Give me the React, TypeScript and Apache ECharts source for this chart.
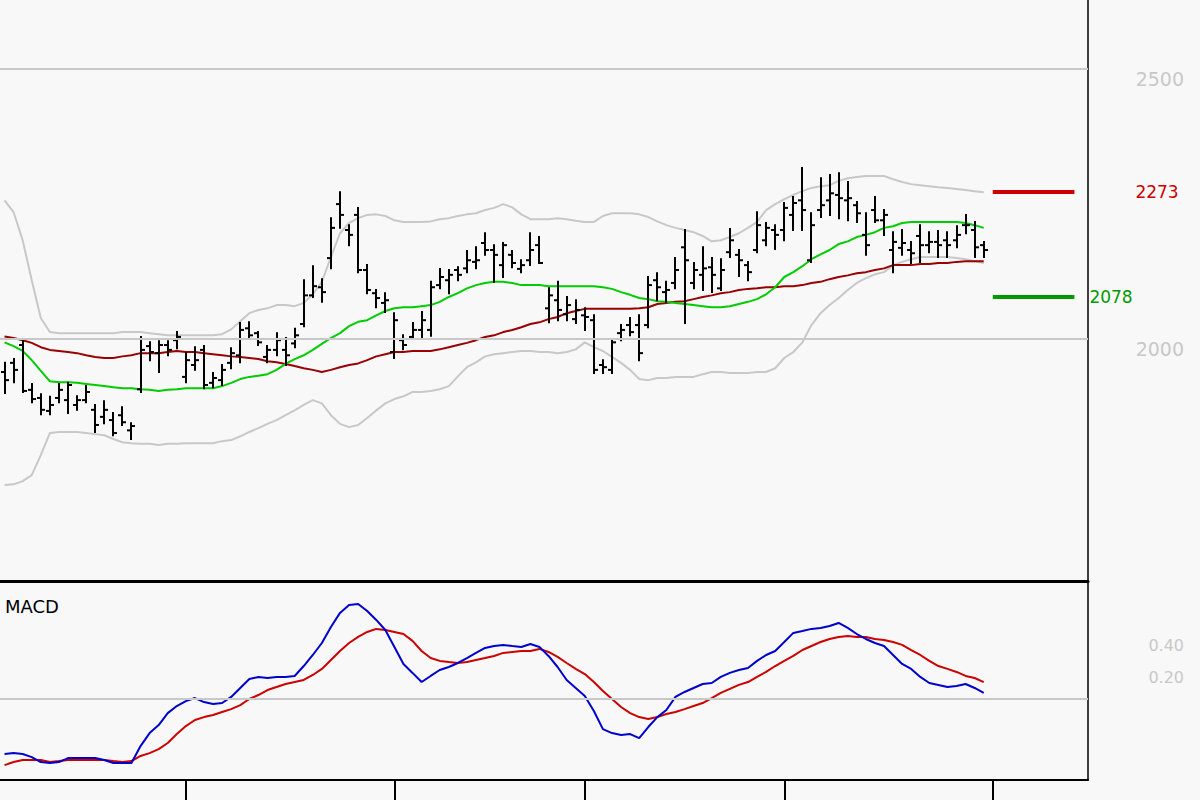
import { useEffect, useRef } from "react";
import * as echarts from "echarts";

const SLOT_COUNT = 120;
const slots = Array.from({ length: SLOT_COUNT }, (_, i) => String(i));
const monthStartIndex = [20, 43, 64, 86, 109];
const priceLabels = [2000, 2500];
const macdLabels = [0.2, 0.4];
const resistanceLevel = 2273;
const supportLevel = 2078;
const levelStart = 109;
const levelEnd = 118;

const open = [
  1939, 1956, 1989, 1906, 1891, 1867, 1891, 1887, 1878, 1887,
  1869, 1856, 1850, 1859, 1831, 1907, 1987, 1974, 1989, 1998,
  1930, 1952, 1980, 1919, 1924, 1956, 1970, 2020, 2011, 1967,
  1980, 1980, 1992, 2028, 2081, 2096, 2150, 2250, 2202, 2230,
  2128, 2085, 2067, 1976, 1998, 2004, 2017, 2017, 2100, 2109,
  2128, 2131, 2143, 2178, 2165, 2137, 2156, 2130, 2146, 2174,
  2057, 2072, 2046, 2037, 2044, 2035, 1952, 1943, 2011, 2026,
  2026, 2026, 2109, 2087, 2104, 2170, 2104, 2119, 2133, 2094,
  2161, 2156, 2137, 2165, 2183, 2202, 2202, 2230, 2257, 2146,
  2239, 2257, 2267, 2257, 2248, 2193, 2239, 2220, 2165, 2169,
  2165, 2191, 2174, 2180, 2183, 2183, 2211, 2202, 2174,
];
const high = [
  1956, 1963, 1996, 1917, 1898, 1893, 1917, 1919, 1894, 1913,
  1878, 1885, 1863, 1874, 1844, 2004, 1994, 1996, 1996, 2013,
  1974, 1985, 1987, 1937, 1952, 1983, 2030, 2031, 2013, 1987,
  2011, 2002, 2019, 2109, 2135, 2111, 2224, 2272, 2211, 2243,
  2137, 2091, 2085, 2048, 2007, 2030, 2050, 2106, 2130, 2128,
  2133, 2163, 2170, 2196, 2174, 2178, 2163, 2146, 2196, 2189,
  2094, 2106, 2078, 2072, 2057, 2044, 1961, 1998, 2026, 2039,
  2044, 2115, 2122, 2106, 2150, 2202, 2141, 2170, 2150, 2148,
  2204, 2165, 2143, 2235, 2215, 2211, 2252, 2263, 2317, 2233,
  2298, 2304, 2307, 2291, 2254, 2233, 2263, 2239, 2198, 2202,
  2180, 2211, 2198, 2200, 2198, 2209, 2230, 2217, 2180,
];
const low = [
  1900, 1920, 1902, 1883, 1861, 1861, 1883, 1863, 1869, 1883,
  1828, 1844, 1822, 1841, 1815, 1902, 1961, 1939, 1970, 1983,
  1920, 1943, 1909, 1911, 1915, 1946, 1957, 2000, 1989, 1957,
  1970, 1952, 1985, 2024, 2078, 2069, 2131, 2206, 2174, 2124,
  2085, 2059, 2050, 1965, 1981, 2000, 2004, 2006, 2094, 2085,
  2109, 2124, 2131, 2156, 2106, 2115, 2133, 2124, 2137, 2141,
  2031, 2035, 2035, 2030, 2017, 1937, 1937, 1937, 1998, 2007,
  1961, 2022, 2072, 2069, 2094, 2030, 2094, 2091, 2087, 2091,
  2152, 2117, 2109, 2161, 2174, 2167, 2183, 2202, 2202, 2143,
  2226, 2230, 2224, 2220, 2217, 2156, 2217, 2193, 2124, 2156,
  2141, 2143, 2161, 2152, 2152, 2170, 2196, 2152, 2152,
];
const close = [
  1924, 1943, 1904, 1889, 1869, 1878, 1906, 1915, 1887, 1902,
  1841, 1869, 1826, 1846, 1839, 1980, 1976, 1989, 1980, 2004,
  1961, 1961, 1915, 1928, 1943, 1974, 2017, 2007, 1994, 1980,
  1998, 1970, 2007, 2081, 2098, 2087, 2206, 2230, 2193, 2128,
  2091, 2076, 2072, 2035, 1989, 2017, 2035, 2096, 2115, 2119,
  2119, 2146, 2146, 2165, 2156, 2174, 2141, 2137, 2165, 2141,
  2081, 2054, 2063, 2054, 2041, 1943, 1948, 1994, 2017, 2013,
  1974, 2100, 2096, 2091, 2128, 2146, 2128, 2131, 2119, 2128,
  2183, 2146, 2124, 2211, 2206, 2193, 2243, 2252, 2239, 2211,
  2248, 2270, 2261, 2261, 2233, 2174, 2220, 2230, 2180, 2178,
  2159, 2174, 2180, 2174, 2174, 2193, 2211, 2170, 2165,
];
const ma20 = [
  1994, 1987, 1978, 1961, 1941, 1922, 1920, 1920, 1919, 1917,
  1915, 1913, 1911, 1909, 1909, 1907, 1906, 1904, 1906, 1907,
  1909, 1909, 1909, 1909, 1913, 1919, 1926, 1930, 1932, 1935,
  1943, 1954, 1963, 1970, 1980, 1991, 2002, 2011, 2024, 2032,
  2035, 2044, 2052, 2057, 2059, 2059, 2061, 2063, 2069, 2078,
  2085, 2094, 2100, 2104, 2106, 2106, 2104, 2100, 2100, 2100,
  2098, 2098, 2098, 2098, 2098, 2098, 2096, 2093, 2087, 2082,
  2076, 2074, 2070, 2069, 2067, 2065, 2063, 2061, 2059, 2059,
  2061, 2065, 2069, 2074, 2083, 2096, 2115, 2124, 2135, 2148,
  2157, 2165, 2176, 2181, 2189, 2193, 2198, 2206, 2209, 2215,
  2217, 2217, 2217, 2217, 2217, 2217, 2215, 2211, 2206,
];
const ma50 = [
  2005, 2002, 1998, 1993, 1985, 1980, 1978, 1976, 1974, 1970,
  1967, 1965, 1965, 1968, 1970, 1974, 1974, 1974, 1976, 1978,
  1976, 1976, 1974, 1972, 1970, 1968, 1967, 1965, 1963, 1959,
  1957, 1954, 1950, 1946, 1943, 1939, 1943, 1948, 1952, 1955,
  1961, 1968, 1972, 1976, 1976, 1978, 1978, 1978, 1981, 1985,
  1989, 1993, 1998, 2004, 2007, 2013, 2017, 2022, 2028, 2031,
  2037, 2041, 2048, 2052, 2056, 2056, 2056, 2056, 2056, 2056,
  2057, 2059, 2065, 2067, 2069, 2070, 2074, 2078, 2081, 2085,
  2087, 2091, 2093, 2094, 2096, 2096, 2098, 2098, 2100, 2104,
  2106, 2111, 2115, 2118, 2122, 2124, 2128, 2131, 2137, 2137,
  2137, 2139, 2139, 2141, 2141, 2143, 2144, 2144, 2144,
];
const bbUpper = [
  2257, 2235, 2183, 2109, 2039, 2013, 2011, 2011, 2011, 2011,
  2011, 2011, 2011, 2013, 2013, 2013, 2011, 2009, 2007, 2007,
  2007, 2007, 2007, 2007, 2009, 2018, 2033, 2048, 2054, 2057,
  2063, 2063, 2061, 2067, 2083, 2106, 2152, 2196, 2215, 2224,
  2230, 2231, 2228, 2220, 2217, 2217, 2217, 2218, 2222, 2224,
  2228, 2231, 2233, 2239, 2243, 2250, 2244, 2231, 2222, 2222,
  2222, 2224, 2222, 2219, 2217, 2217, 2228, 2233, 2233, 2233,
  2231, 2226, 2218, 2211, 2206, 2202, 2198, 2191, 2181, 2183,
  2189, 2196, 2206, 2217, 2239, 2250, 2259, 2267, 2274, 2280,
  2283, 2285, 2293, 2298, 2300, 2302, 2302, 2302, 2296, 2291,
  2287, 2285, 2283, 2281, 2280, 2278, 2276, 2274, 2272,
];
const bbLower = [
  1730, 1731, 1737, 1748, 1785, 1826, 1828, 1828, 1828, 1826,
  1824, 1822, 1815, 1809, 1807, 1806, 1806, 1804, 1806, 1806,
  1807, 1807, 1807, 1807, 1811, 1813, 1820, 1828, 1835, 1843,
  1850, 1859, 1868, 1878, 1887, 1881, 1859, 1843, 1837, 1841,
  1854, 1868, 1881, 1889, 1894, 1902, 1902, 1904, 1907, 1913,
  1931, 1948, 1957, 1968, 1972, 1974, 1976, 1978, 1978, 1976,
  1976, 1974, 1976, 1981, 1994, 1985, 1978, 1967, 1956, 1943,
  1926, 1924, 1928, 1928, 1930, 1930, 1930, 1935, 1939, 1939,
  1937, 1937, 1937, 1939, 1939, 1946, 1965, 1976, 1994, 2026,
  2048, 2063, 2076, 2091, 2104, 2113, 2120, 2124, 2137, 2143,
  2148, 2152, 2152, 2152, 2152, 2150, 2148, 2144, 2141,
];
const macdLine = [
  -0.344, -0.338, -0.344, -0.363, -0.394, -0.4, -0.394, -0.369, -0.369, -0.369,
  -0.369, -0.381, -0.4, -0.4, -0.4, -0.294, -0.213, -0.163, -0.088, -0.044,
  -0.013, 0.006, -0.019, -0.031, -0.025, 0.013, 0.069, 0.125, 0.138, 0.131,
  0.138, 0.138, 0.144, 0.206, 0.275, 0.35, 0.45, 0.538, 0.588, 0.594,
  0.55, 0.494, 0.431, 0.325, 0.219, 0.163, 0.106, 0.144, 0.181, 0.2,
  0.225, 0.256, 0.288, 0.319, 0.331, 0.338, 0.331, 0.325, 0.344, 0.325,
  0.269, 0.2, 0.119, 0.069, 0.019, -0.075, -0.188, -0.213, -0.225, -0.219,
  -0.244, -0.175, -0.113, -0.069, 0.013, 0.044, 0.069, 0.094, 0.1, 0.138,
  0.163, 0.181, 0.194, 0.238, 0.275, 0.3, 0.356, 0.413, 0.425, 0.438,
  0.444, 0.456, 0.475, 0.444, 0.406, 0.375, 0.35, 0.331, 0.275, 0.219,
  0.188, 0.138, 0.1, 0.088, 0.075, 0.081, 0.094, 0.069, 0.038,
];
const signalLine = [
  -0.413, -0.394, -0.381, -0.381, -0.381, -0.394, -0.388, -0.381, -0.381, -0.381,
  -0.381, -0.381, -0.388, -0.394, -0.388, -0.356, -0.338, -0.313, -0.275, -0.219,
  -0.169, -0.131, -0.113, -0.1, -0.081, -0.063, -0.038, 0.0, 0.025, 0.056,
  0.075, 0.094, 0.106, 0.119, 0.15, 0.188, 0.244, 0.3, 0.35, 0.388,
  0.419, 0.438, 0.431, 0.419, 0.406, 0.363, 0.3, 0.256, 0.238, 0.231,
  0.225, 0.231, 0.244, 0.256, 0.269, 0.288, 0.294, 0.3, 0.3, 0.313,
  0.294, 0.263, 0.225, 0.188, 0.156, 0.106, 0.05, 0.0, -0.05, -0.088,
  -0.113, -0.125, -0.113, -0.094, -0.081, -0.063, -0.044, -0.025, 0.006, 0.038,
  0.063, 0.088, 0.106, 0.138, 0.169, 0.206, 0.238, 0.269, 0.306, 0.331,
  0.356, 0.375, 0.388, 0.394, 0.388, 0.388, 0.375, 0.369, 0.356, 0.338,
  0.306, 0.275, 0.238, 0.206, 0.188, 0.169, 0.144, 0.131, 0.106,
];

const FONT = '"DejaVu Sans", "Liberation Sans", sans-serif';
const GRAY = "#c8c8c8";

export default function App() {
  const ref = useRef<HTMLDivElement>(null);

  useEffect(() => {
    const chart = echarts.init(ref.current!, null, { renderer: "svg" });
    const bars = open.map((o, i) => [i, o, high[i], low[i], close[i]]);

    const levelLine = (value: number, color: string, distance: number) => [
      {
        coord: [slots[levelStart], value],
        lineStyle: { color, width: 4, type: "solid" },
        label: {
          show: true,
          position: "end",
          formatter: String(value),
          color,
          fontSize: 17,
          fontFamily: FONT,
          distance,
        },
      },
      {
        coord: [slots[levelEnd], value],
        lineStyle: { color, width: 4, type: "solid" },
      },
    ];

    chart.setOption({
      animation: false,
      backgroundColor: "#f8f8f8",
      textStyle: { fontFamily: FONT },
      grid: [
        { left: 0, top: 0, width: 1088, height: 581 },
        { left: 0, top: 582, width: 1088, height: 198 },
      ],
      xAxis: [
        {
          type: "category",
          gridIndex: 0,
          data: slots,
          boundaryGap: true,
          position: "bottom",
          axisLine: { show: true, onZero: false, lineStyle: { color: "#000", width: 3 } },
          axisTick: { show: false },
          axisLabel: { show: false },
          splitLine: { show: false },
        },
        {
          type: "category",
          gridIndex: 1,
          data: slots,
          boundaryGap: true,
          position: "bottom",
          axisLine: { show: true, onZero: false, lineStyle: { color: "#000", width: 2 } },
          axisTick: {
            show: true,
            alignWithLabel: true,
            length: 20,
            interval: (index: number) => monthStartIndex.includes(index),
            lineStyle: { color: "#000", width: 2 },
          },
          axisLabel: { show: false },
          splitLine: { show: false },
        },
      ],
      yAxis: [
        {
          type: "value",
          gridIndex: 0,
          position: "right",
          min: 1552,
          max: 2628,
          axisLine: { show: true, lineStyle: { color: "#000", width: 1.5 } },
          axisTick: { show: false },
          splitLine: { show: false },
          axisLabel: {
            customValues: priceLabels,
            formatter: (v: number) => String(v),
            color: GRAY,
            fontSize: 19,
            fontFamily: FONT,
            align: "right",
            verticalAlign: "top",
            margin: 96,
          },
        },
        {
          type: "value",
          gridIndex: 1,
          position: "right",
          min: -0.506,
          max: 0.731,
          axisLine: { show: true, lineStyle: { color: "#000", width: 1.5 } },
          axisTick: { show: false },
          splitLine: { show: false },
          axisLabel: {
            customValues: macdLabels,
            formatter: (v: number) => v.toFixed(2),
            color: GRAY,
            fontSize: 16,
            fontFamily: FONT,
            align: "right",
            verticalAlign: "top",
            margin: 96,
            padding: [3, 0, 0, 0],
          },
        },
      ],
      graphic: [
        {
          type: "text",
          left: 5,
          top: 597,
          style: { text: "MACD", font: `18px ${FONT}`, fill: "#000" },
        },
      ],
      series: [
        {
          name: "Upper band",
          type: "line",
          xAxisIndex: 0,
          yAxisIndex: 0,
          data: bbUpper,
          symbol: "none",
          z: 1,
          lineStyle: { color: GRAY, width: 2 },
          markLine: {
            silent: true,
            symbol: ["none", "none"],
            label: { show: false },
            lineStyle: { color: GRAY, width: 2, type: "solid" },
            data: priceLabels.map((v) => ({ yAxis: v })),
          },
        },
        {
          name: "Lower band",
          type: "line",
          xAxisIndex: 0,
          yAxisIndex: 0,
          data: bbLower,
          symbol: "none",
          z: 1,
          lineStyle: { color: GRAY, width: 2 },
        },
        {
          name: "MA50",
          type: "line",
          xAxisIndex: 0,
          yAxisIndex: 0,
          data: ma50,
          symbol: "none",
          z: 2,
          lineStyle: { color: "#990000", width: 2 },
        },
        {
          name: "MA20",
          type: "line",
          xAxisIndex: 0,
          yAxisIndex: 0,
          data: ma20,
          symbol: "none",
          z: 2,
          lineStyle: { color: "#00cc00", width: 2 },
          markLine: {
            silent: true,
            symbol: ["none", "none"],
            data: [
              levelLine(resistanceLevel, "#cc0000", 61),
              levelLine(supportLevel, "#009900", 15),
            ],
          },
        },
        {
          name: "Price",
          type: "custom",
          xAxisIndex: 0,
          yAxisIndex: 0,
          z: 3,
          data: bars,
          encode: { x: 0, y: [1, 2, 3, 4] },
          renderItem: (_params: any, api: any) => {
            const i = api.value(0);
            const o = api.coord([i, api.value(1)]);
            const h = api.coord([i, api.value(2)]);
            const l = api.coord([i, api.value(3)]);
            const c = api.coord([i, api.value(4)]);
            const cx = Math.round(h[0]);
            const style = { stroke: "#000", lineWidth: 2 };
            return {
              type: "group",
              children: [
                { type: "line", shape: { x1: cx, y1: h[1] - 1, x2: cx, y2: l[1] + 1 }, style },
                { type: "line", shape: { x1: cx - 4, y1: o[1], x2: cx, y2: o[1] }, style },
                { type: "line", shape: { x1: cx, y1: c[1], x2: cx + 4, y2: c[1] }, style },
              ],
            };
          },
        },
        {
          name: "Signal",
          type: "line",
          xAxisIndex: 1,
          yAxisIndex: 1,
          data: signalLine,
          symbol: "none",
          z: 2,
          lineStyle: { color: "#cc0000", width: 2 },
          markLine: {
            silent: true,
            symbol: ["none", "none"],
            label: { show: false },
            lineStyle: { color: GRAY, width: 2, type: "solid" },
            data: [{ yAxis: 0 }],
          },
        },
        {
          name: "MACD",
          type: "line",
          xAxisIndex: 1,
          yAxisIndex: 1,
          data: macdLine,
          symbol: "none",
          z: 3,
          lineStyle: { color: "#0000cc", width: 2 },
        },
      ],
    });

    return () => chart.dispose();
  }, []);

  return (
    <div
      ref={ref}
      style={{ position: "absolute", left: 0, top: 0, width: 1200, height: 800, background: "#f8f8f8" }}
    />
  );
}
